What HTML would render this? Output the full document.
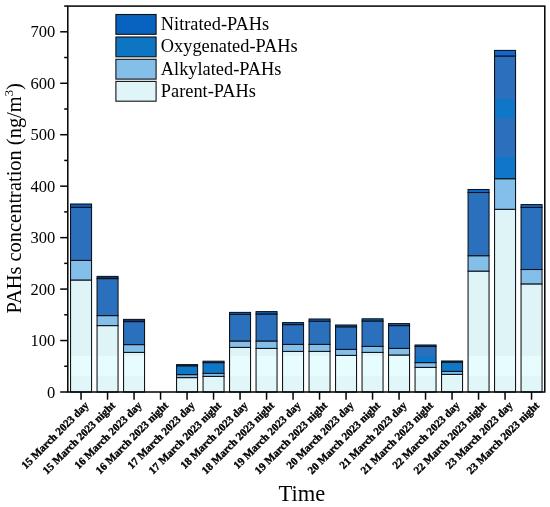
<!DOCTYPE html>
<html><head><meta charset="utf-8"><title>PAHs concentration</title>
<style>html,body{margin:0;padding:0;background:#fff}body{width:550px;height:507px;overflow:hidden}</style></head>
<body>
<svg width="550" height="507" viewBox="0 0 550 507" style="display:block">
<rect width="550" height="507" fill="#fff"/>
<defs>
<linearGradient id="gp" gradientUnits="userSpaceOnUse" x1="0" y1="0" x2="0" y2="507">
<stop offset="0" stop-color="#dff4f6"/><stop offset="0.7022" stop-color="#dff4f6"/>
<stop offset="0.7022" stop-color="#e6fcfd"/><stop offset="0.7416" stop-color="#e6fcfd"/>
<stop offset="0.7416" stop-color="#e0f6f8"/><stop offset="1" stop-color="#e0f6f8"/>
</linearGradient>
<linearGradient id="go" gradientUnits="userSpaceOnUse" x1="0" y1="0" x2="0" y2="507">
<stop offset="0" stop-color="#2b70bc"/><stop offset="0.1945" stop-color="#2b70bc"/>
<stop offset="0.1945" stop-color="#0f77c8"/><stop offset="0.2327" stop-color="#0f77c8"/>
<stop offset="0.2327" stop-color="#2b70bc"/><stop offset="0.3097" stop-color="#2b70bc"/>
<stop offset="0.3097" stop-color="#0f77c8"/><stop offset="0.3530" stop-color="#0f77c8"/>
<stop offset="0.3530" stop-color="#2b70bc"/><stop offset="0.7022" stop-color="#2b70bc"/>
<stop offset="0.7022" stop-color="#0f77c8"/><stop offset="0.7416" stop-color="#0f77c8"/>
<stop offset="0.7416" stop-color="#2b70bc"/><stop offset="1" stop-color="#2b70bc"/>
</linearGradient>
</defs>
<g stroke="#0d1118" stroke-width="1.05">
<rect x="70.55" y="280.00" width="21.0" height="112.00" fill="url(#gp)"/>
<rect x="70.55" y="260.40" width="21.0" height="19.60" fill="#84bfea"/>
<rect x="70.55" y="207.40" width="21.0" height="53.00" fill="url(#go)"/>
<rect x="70.55" y="204.00" width="21.0" height="3.40" fill="#0f5cb8"/>
<rect x="97.05" y="325.60" width="21.0" height="66.40" fill="url(#gp)"/>
<rect x="97.05" y="315.60" width="21.0" height="10.00" fill="#84bfea"/>
<rect x="97.05" y="278.60" width="21.0" height="37.00" fill="url(#go)"/>
<rect x="97.05" y="276.40" width="21.0" height="2.20" fill="#0b3573"/>
<rect x="123.55" y="352.40" width="21.0" height="39.60" fill="url(#gp)"/>
<rect x="123.55" y="344.60" width="21.0" height="7.80" fill="#84bfea"/>
<rect x="123.55" y="321.60" width="21.0" height="23.00" fill="url(#go)"/>
<rect x="123.55" y="319.40" width="21.0" height="2.20" fill="#0b3573"/>
<rect x="176.55" y="377.60" width="21.0" height="14.40" fill="url(#gp)"/>
<rect x="176.55" y="374.60" width="21.0" height="3.00" fill="#84bfea"/>
<rect x="176.55" y="365.80" width="21.0" height="8.80" fill="url(#go)"/>
<rect x="176.55" y="364.60" width="21.0" height="1.20" fill="#0f5cb8"/>
<rect x="203.05" y="376.40" width="21.0" height="15.60" fill="url(#gp)"/>
<rect x="203.05" y="373.40" width="21.0" height="3.00" fill="#84bfea"/>
<rect x="203.05" y="362.60" width="21.0" height="10.80" fill="url(#go)"/>
<rect x="203.05" y="361.20" width="21.0" height="1.40" fill="#0f5cb8"/>
<rect x="229.55" y="347.40" width="21.0" height="44.60" fill="url(#gp)"/>
<rect x="229.55" y="341.00" width="21.0" height="6.40" fill="#84bfea"/>
<rect x="229.55" y="314.40" width="21.0" height="26.60" fill="url(#go)"/>
<rect x="229.55" y="312.40" width="21.0" height="2.00" fill="#0f5cb8"/>
<rect x="256.05" y="348.40" width="21.0" height="43.60" fill="url(#gp)"/>
<rect x="256.05" y="341.00" width="21.0" height="7.40" fill="#84bfea"/>
<rect x="256.05" y="314.00" width="21.0" height="27.00" fill="url(#go)"/>
<rect x="256.05" y="311.60" width="21.0" height="2.40" fill="#0f5cb8"/>
<rect x="282.55" y="351.40" width="21.0" height="40.60" fill="url(#gp)"/>
<rect x="282.55" y="344.40" width="21.0" height="7.00" fill="#84bfea"/>
<rect x="282.55" y="324.60" width="21.0" height="19.80" fill="url(#go)"/>
<rect x="282.55" y="322.60" width="21.0" height="2.00" fill="#0f5cb8"/>
<rect x="309.05" y="351.40" width="21.0" height="40.60" fill="url(#gp)"/>
<rect x="309.05" y="344.40" width="21.0" height="7.00" fill="#84bfea"/>
<rect x="309.05" y="321.20" width="21.0" height="23.20" fill="url(#go)"/>
<rect x="309.05" y="319.00" width="21.0" height="2.20" fill="#0f5cb8"/>
<rect x="335.55" y="355.40" width="21.0" height="36.60" fill="url(#gp)"/>
<rect x="335.55" y="349.40" width="21.0" height="6.00" fill="#84bfea"/>
<rect x="335.55" y="326.80" width="21.0" height="22.60" fill="url(#go)"/>
<rect x="335.55" y="325.00" width="21.0" height="1.80" fill="#0f5cb8"/>
<rect x="362.05" y="352.40" width="21.0" height="39.60" fill="url(#gp)"/>
<rect x="362.05" y="346.40" width="21.0" height="6.00" fill="#84bfea"/>
<rect x="362.05" y="321.00" width="21.0" height="25.40" fill="url(#go)"/>
<rect x="362.05" y="318.80" width="21.0" height="2.20" fill="#0f5cb8"/>
<rect x="388.55" y="355.00" width="21.0" height="37.00" fill="url(#gp)"/>
<rect x="388.55" y="348.40" width="21.0" height="6.60" fill="#84bfea"/>
<rect x="388.55" y="325.60" width="21.0" height="22.80" fill="url(#go)"/>
<rect x="388.55" y="323.60" width="21.0" height="2.00" fill="#0f5cb8"/>
<rect x="415.05" y="367.40" width="21.0" height="24.60" fill="url(#gp)"/>
<rect x="415.05" y="362.60" width="21.0" height="4.80" fill="#84bfea"/>
<rect x="415.05" y="346.40" width="21.0" height="16.20" fill="url(#go)"/>
<rect x="415.05" y="345.00" width="21.0" height="1.40" fill="#0f5cb8"/>
<rect x="441.55" y="374.40" width="21.0" height="17.60" fill="url(#gp)"/>
<rect x="441.55" y="371.40" width="21.0" height="3.00" fill="#84bfea"/>
<rect x="441.55" y="362.20" width="21.0" height="9.20" fill="url(#go)"/>
<rect x="441.55" y="361.00" width="21.0" height="1.20" fill="#0f5cb8"/>
<rect x="468.05" y="271.10" width="21.0" height="120.90" fill="url(#gp)"/>
<rect x="468.05" y="255.70" width="21.0" height="15.40" fill="#84bfea"/>
<rect x="468.05" y="192.50" width="21.0" height="63.20" fill="url(#go)"/>
<rect x="468.05" y="189.50" width="21.0" height="3.00" fill="#1467cc"/>
<rect x="494.55" y="209.30" width="21.0" height="182.70" fill="url(#gp)"/>
<rect x="494.55" y="178.70" width="21.0" height="30.60" fill="#84bfea"/>
<rect x="494.55" y="56.00" width="21.0" height="122.70" fill="url(#go)"/>
<rect x="494.55" y="50.40" width="21.0" height="5.60" fill="#1467cc"/>
<rect x="521.05" y="283.90" width="21.0" height="108.10" fill="url(#gp)"/>
<rect x="521.05" y="269.50" width="21.0" height="14.40" fill="#84bfea"/>
<rect x="521.05" y="207.40" width="21.0" height="62.10" fill="url(#go)"/>
<rect x="521.05" y="204.60" width="21.0" height="2.80" fill="#1467cc"/>
</g>
<g stroke="#000" stroke-width="1.5" fill="none">
<rect x="67.8" y="6.1" width="477.00" height="385.90"/>
<line x1="60.2" x2="67.8" y1="392.00" y2="392.00"/>
<line x1="64.2" x2="67.8" y1="366.27" y2="366.27"/>
<line x1="60.2" x2="67.8" y1="340.54" y2="340.54"/>
<line x1="64.2" x2="67.8" y1="314.81" y2="314.81"/>
<line x1="60.2" x2="67.8" y1="289.09" y2="289.09"/>
<line x1="64.2" x2="67.8" y1="263.36" y2="263.36"/>
<line x1="60.2" x2="67.8" y1="237.63" y2="237.63"/>
<line x1="64.2" x2="67.8" y1="211.90" y2="211.90"/>
<line x1="60.2" x2="67.8" y1="186.17" y2="186.17"/>
<line x1="64.2" x2="67.8" y1="160.44" y2="160.44"/>
<line x1="60.2" x2="67.8" y1="134.71" y2="134.71"/>
<line x1="64.2" x2="67.8" y1="108.99" y2="108.99"/>
<line x1="60.2" x2="67.8" y1="83.26" y2="83.26"/>
<line x1="64.2" x2="67.8" y1="57.53" y2="57.53"/>
<line x1="60.2" x2="67.8" y1="31.80" y2="31.80"/>
<line x1="64.2" x2="67.8" y1="6.07" y2="6.07"/>
<line x1="81.05" x2="81.05" y1="392.0" y2="399.7"/>
<line x1="107.55" x2="107.55" y1="392.0" y2="399.7"/>
<line x1="134.05" x2="134.05" y1="392.0" y2="399.7"/>
<line x1="160.55" x2="160.55" y1="392.0" y2="399.7"/>
<line x1="187.05" x2="187.05" y1="392.0" y2="399.7"/>
<line x1="213.55" x2="213.55" y1="392.0" y2="399.7"/>
<line x1="240.05" x2="240.05" y1="392.0" y2="399.7"/>
<line x1="266.55" x2="266.55" y1="392.0" y2="399.7"/>
<line x1="293.05" x2="293.05" y1="392.0" y2="399.7"/>
<line x1="319.55" x2="319.55" y1="392.0" y2="399.7"/>
<line x1="346.05" x2="346.05" y1="392.0" y2="399.7"/>
<line x1="372.55" x2="372.55" y1="392.0" y2="399.7"/>
<line x1="399.05" x2="399.05" y1="392.0" y2="399.7"/>
<line x1="425.55" x2="425.55" y1="392.0" y2="399.7"/>
<line x1="452.05" x2="452.05" y1="392.0" y2="399.7"/>
<line x1="478.55" x2="478.55" y1="392.0" y2="399.7"/>
<line x1="505.05" x2="505.05" y1="392.0" y2="399.7"/>
<line x1="531.55" x2="531.55" y1="392.0" y2="399.7"/>
</g>
<g font-family="'Liberation Serif', serif" font-size="16.5" fill="#000" text-anchor="end">
<text x="55.2" y="397.60">0</text>
<text x="55.2" y="346.14">100</text>
<text x="55.2" y="294.69">200</text>
<text x="55.2" y="243.23">300</text>
<text x="55.2" y="191.77">400</text>
<text x="55.2" y="140.31">500</text>
<text x="55.2" y="88.86">600</text>
<text x="55.2" y="37.40">700</text>
</g>
<text transform="translate(21.4,198.4) rotate(-90)" text-anchor="middle" font-family="'Liberation Serif', serif" font-size="20.45" fill="#000">PAHs concentration (ng/m<tspan font-size="12.5" dy="-8.5">3</tspan><tspan dy="8.5">)</tspan></text>
<g font-family="'Liberation Serif', serif" font-size="11" font-weight="bold" fill="#000" stroke="#000" stroke-width="0.35" text-anchor="end">
<text transform="translate(86.65,403.3) rotate(-45)" dy="0.35em">15 March 2023 day</text>
<text transform="translate(113.15,403.3) rotate(-45)" dy="0.35em">15 March 2023 night</text>
<text transform="translate(139.65,403.3) rotate(-45)" dy="0.35em">16 March 2023 day</text>
<text transform="translate(166.15,403.3) rotate(-45)" dy="0.35em">16 March 2023 night</text>
<text transform="translate(192.65,403.3) rotate(-45)" dy="0.35em">17 March 2023 day</text>
<text transform="translate(219.15,403.3) rotate(-45)" dy="0.35em">17 March 2023 night</text>
<text transform="translate(245.65,403.3) rotate(-45)" dy="0.35em">18 March 2023 day</text>
<text transform="translate(272.15,403.3) rotate(-45)" dy="0.35em">18 March 2023 night</text>
<text transform="translate(298.65,403.3) rotate(-45)" dy="0.35em">19 March 2023 day</text>
<text transform="translate(325.15,403.3) rotate(-45)" dy="0.35em">19 March 2023 night</text>
<text transform="translate(351.65,403.3) rotate(-45)" dy="0.35em">20 March 2023 day</text>
<text transform="translate(378.15,403.3) rotate(-45)" dy="0.35em">20 March 2023 night</text>
<text transform="translate(404.65,403.3) rotate(-45)" dy="0.35em">21 March 2023 day</text>
<text transform="translate(431.15,403.3) rotate(-45)" dy="0.35em">21 March 2023 night</text>
<text transform="translate(457.65,403.3) rotate(-45)" dy="0.35em">22 March 2023 day</text>
<text transform="translate(484.15,403.3) rotate(-45)" dy="0.35em">22 March 2023 night</text>
<text transform="translate(510.65,403.3) rotate(-45)" dy="0.35em">23 March 2023 day</text>
<text transform="translate(537.15,403.3) rotate(-45)" dy="0.35em">23 March 2023 night</text>
</g>
<text x="301.8" y="501.2" text-anchor="middle" font-family="'Liberation Serif', serif" font-size="22.5" fill="#000">Time</text>
<g font-family="'Liberation Serif', serif" font-size="18.35" fill="#000">
<rect x="115.9" y="14.5" width="40.2" height="19.8" fill="#0862c0" stroke="#111" stroke-width="1.1"/>
<text x="160.8" y="29.6">Nitrated-PAHs</text>
<rect x="115.9" y="37.0" width="40.2" height="19.8" fill="#0e74c4" stroke="#111" stroke-width="1.1"/>
<text x="160.8" y="52.0">Oxygenated-PAHs</text>
<rect x="115.9" y="59.3" width="40.2" height="19.8" fill="#84bfea" stroke="#111" stroke-width="1.1"/>
<text x="160.8" y="74.5">Alkylated-PAHs</text>
<rect x="115.9" y="81.4" width="40.2" height="19.8" fill="#e0f5f7" stroke="#111" stroke-width="1.1"/>
<text x="160.8" y="96.8">Parent-PAHs</text>
</g>
</svg>
</body></html>
